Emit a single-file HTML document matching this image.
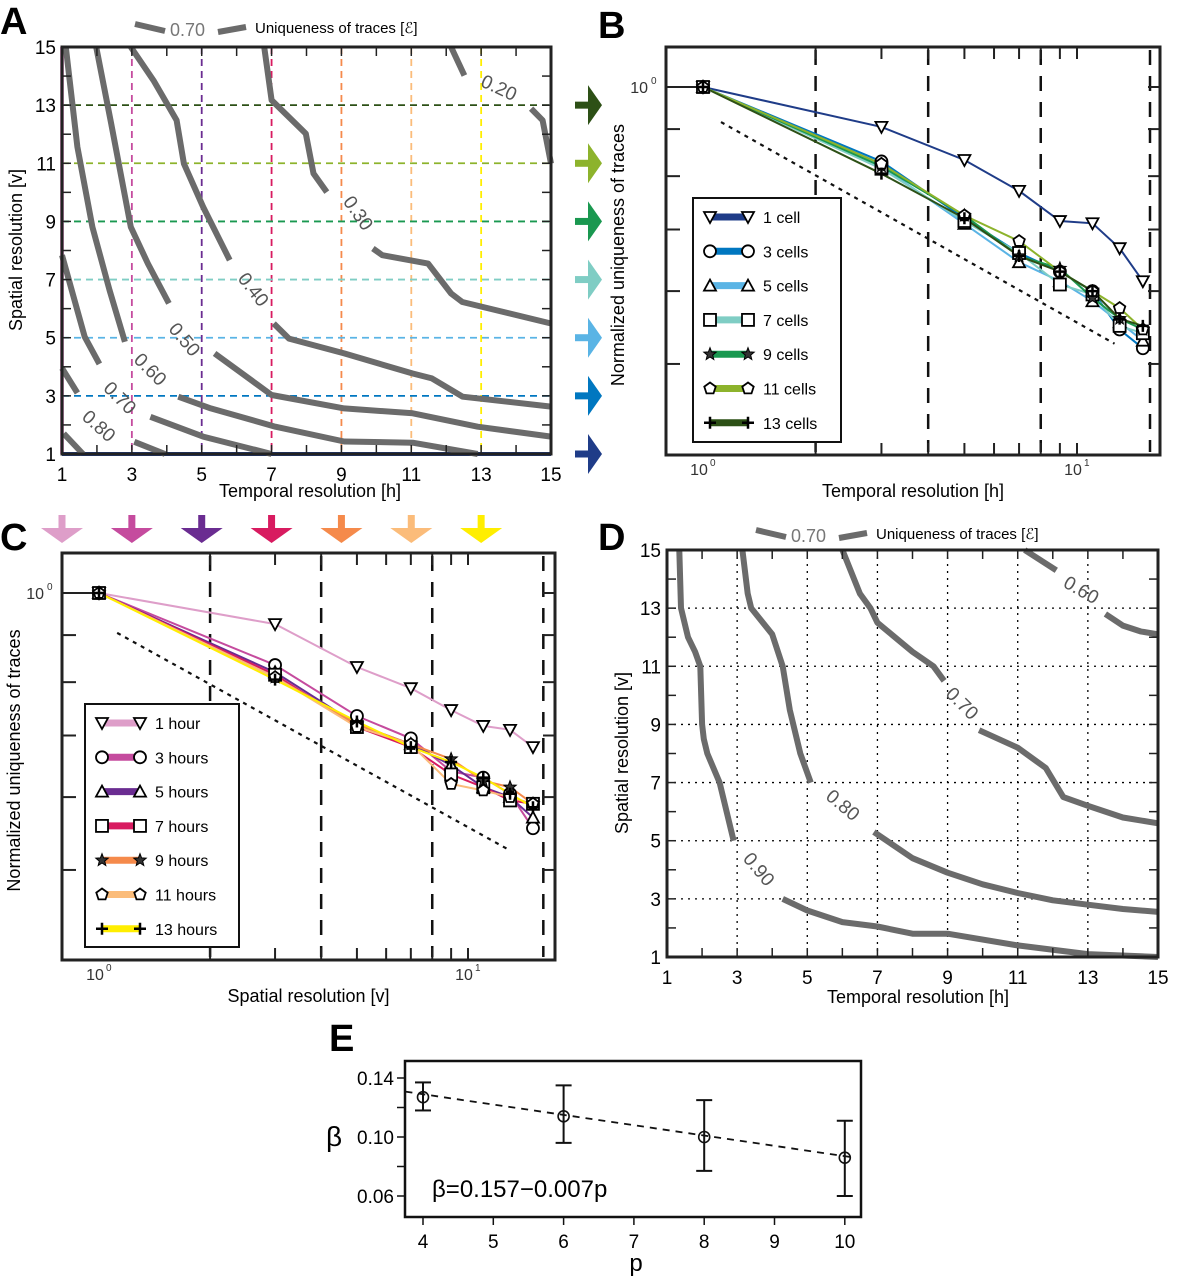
<!DOCTYPE html>
<html><head><meta charset="utf-8"><style>
html,body{margin:0;padding:0;background:#fff}
svg{display:block}
text{font-family:"Liberation Sans",sans-serif}
</style></head><body>
<svg id="fig" width="1200" height="1278" viewBox="0 0 1200 1278" xmlns="http://www.w3.org/2000/svg"></svg>
<script>
// ---------- DATA ----------
const resValues = [1,3,5,7,9,11,13,15];
const cellLabels = ["1 cell","3 cells","5 cells","7 cells","9 cells","11 cells","13 cells"];
const cellColors = ["#1f3c88","#0077c0","#5ab4e5","#7fcdc4","#1a9850","#8db32c","#2d5016"];
const cell1 = [1,.905,.833,.771,.715,.711,.668,.615];
const cell3 = [1,.83,.72,.66,.63,.60,.545,.52];
const cell5 = [1,.82,.71,.645,.615,.585,.555,.53];
const cell7 = [1,.815,.715,.66,.61,.595,.55,.54];
const cell9 = [1,.82,.725,.655,.635,.59,.56,.545];
const cell11 = [1,.825,.725,.68,.63,.60,.575,.545];
const cell13 = [1,.805,.72,.655,.63,.60,.56,.55];
const hourLabels = ["1 hour","3 hours","5 hours","7 hours","9 hours","11 hours","13 hours"];
const hourColors = ["#de9ec9","#c54b9e","#6a2c91","#d81b60","#f58a4b","#fbbc7a","#ffee00"];
const hour1 = [1,.925,.831,.788,.746,.717,.71,.68];
const hour3 = [1,.835,.735,.695,.64,.63,.605,.555];
const hour5 = [1,.82,.72,.685,.65,.615,.6,.57];
const hour7 = [1,.815,.715,.68,.635,.615,.595,.59];
const hour9 = [1,.81,.72,.685,.66,.625,.615,.59];
const hour11 = [1,.81,.715,.685,.62,.61,.6,.59];
const hour13 = [1,.805,.725,.68,.655,.63,.605,.585];
const markerTypes = ["tri-down","circle","tri-up","square","star","pentagon","plus"];
const refLineB = [[1.117,0.916],[12.6,0.526]];
const refLineC = [[1.12,0.905],[13.0,0.525]];
const logMinorTicks = [2,3,4,5,6,7,8,9,10];
const logYTicks = [1,0.9,0.8,0.7,0.6,0.5];
const dashedX = [2,4,8,16];
const contoursA = [
 ["0.90",[[[1.05,1.7],[1.6,1]]]],
 ["0.80",[[[1,3.95],[1.44,3.1]],[[3.07,1.42],[3.95,1]]]],
 ["0.70",[[[1,7.84],[1.65,5.03],[2.07,4.1]],[[3.53,2.28],[5.04,1.6],[7,1]]]],
 ["0.60",[[[1.11,15],[1.44,11.56],[1.87,8.81],[2.36,6.64],[2.8,4.86]],[[4.33,2.97],[5.26,2.57],[7.11,1.94],[9.08,1.43],[11.04,1.39],[12.9,1]]]],
 ["0.50",[[[1.98,15],[2.41,12.36],[2.97,8.81],[3.46,7.55],[4.06,6.18]],[[5.37,4.46],[7.0,3.03],[9.08,2.57],[11.04,2.4],[12.9,1.94],[15,1.6]]]],
 ["0.40",[[[2.97,15],[3.62,13.85],[4.28,12.48],[4.49,10.99],[5.04,9.5],[5.8,7.67]],[[7.06,5.49],[7.5,4.97],[9.08,4.46],[11.04,3.77],[11.59,3.6],[12.47,2.97],[15,2.63]]]],
 ["0.30",[[[6.79,15],[7.0,13.17],[7.98,12.02],[8.2,10.65],[8.58,10.01]],[[9.9,8.07],[10.17,7.84],[11.48,7.55],[12.14,6.52],[12.46,6.23],[15,5.49]]]],
 ["0.20",[[[12.14,15],[12.52,14.02]],[[14.43,12.88],[14.76,12.48],[15,10.99]]]]
];
const labelsA = [["0.80",2.04,1.94,42],["0.70",2.64,2.91,45],["0.60",3.51,3.89,45],["0.50",4.49,4.92,50],["0.40",6.46,6.64,52],["0.30",9.46,9.27,55],["0.20",13.5,13.57,25]];
const contoursD = [
 ["0.90",[[[1.35,15],[1.4,13],[1.6,12],[1.8,11.5],[1.95,11],[2,9],[2.05,8.5],[2.15,8],[2.5,7],[2.9,5]],[[4.3,3],[5,2.6],[6,2.2],[7,2.05],[8,1.8],[9,1.8],[11,1.4],[13,1.1],[15,1.0]]]],
 ["0.80",[[[3.15,15],[3.3,13.5],[3.4,13],[4,12.1],[4.3,11],[4.5,9.5],[4.8,8],[5.1,7]],[[6.9,5.3],[8,4.4],[9,3.9],[10,3.5],[11,3.2],[12,2.95],[13,2.8],[14,2.65],[15,2.55]]]],
 ["0.70",[[[6.0,15],[6.5,13.5],[6.8,13],[7,12.5],[8,11.5],[8.6,11],[8.9,10.5]],[[9.9,8.8],[11,8.2],[11.8,7.5],[12.3,6.5],[13,6.2],[14,5.8],[15,5.6]]]],
 ["0.60",[[[11.2,15],[12.1,14.3]],[[13.5,12.8],[14,12.4],[14.5,12.2],[15,12.1]]]]
];
const labelsD = [["0.90",3.6,4.0,50],["0.80",6.0,6.2,40],["0.70",9.4,9.7,45],["0.60",12.8,13.6,30]];
const pValues = [4,6,8,10];
const betaValues = [0.127,0.114,0.100,0.086];
const betaLow = [0.118,0.096,0.077,0.060];
const betaHigh = [0.137,0.135,0.125,0.111];
const betaTicks = [0.06,0.10,0.14];
const pTicks = [4,5,6,7,8,9,10];

// ---------- HELPERS ----------
const NS="http://www.w3.org/2000/svg";
const svg=document.getElementById('fig');
function el(tag,attrs,parent){const e=document.createElementNS(NS,tag);for(const k in attrs)e.setAttribute(k,attrs[k]);(parent||svg).appendChild(e);return e;}
function grp(name){const g=el('g',{});return g;}
function txt(s,x,y,size,parent,extra){const t=el('text',Object.assign({x:x,y:y,'font-size':size},extra||{}),parent);t.textContent=s;return t;}
function line(x1,y1,x2,y2,stroke,w,parent,dash){const a={x1,y1,x2,y2,stroke,'stroke-width':w};if(dash)a['stroke-dasharray']=dash;return el('line',a,parent);}
function marker(type,x,y,parent){
  const a={fill:'#fff',stroke:'#000','stroke-width':1.8};let e;const r=6;
  if(type==='circle')e=el('circle',Object.assign({cx:x,cy:y,r:r},a),parent);
  else if(type==='square')e=el('rect',Object.assign({x:x-r,y:y-r,width:2*r,height:2*r},a),parent);
  else if(type==='tri-down')e=el('polygon',Object.assign({points:`${x-6},${y-5} ${x+6},${y-5} ${x},${y+6}`},a),parent);
  else if(type==='tri-up')e=el('polygon',Object.assign({points:`${x-6},${y+5} ${x+6},${y+5} ${x},${y-6}`},a),parent);
  else if(type==='pentagon'){let p=[];for(let i=0;i<5;i++){const t=-Math.PI/2+i*2*Math.PI/5;p.push((x+6*Math.cos(t)).toFixed(1)+','+(y+6*Math.sin(t)).toFixed(1));}e=el('polygon',Object.assign({points:p.join(' ')},a),parent);}
  else if(type==='star'){let p=[];for(let i=0;i<10;i++){const t=-Math.PI/2+i*Math.PI/5;const rr=i%2?2.8:6.5;p.push((x+rr*Math.cos(t)).toFixed(1)+','+(y+rr*Math.sin(t)).toFixed(1));}e=el('polygon',Object.assign({points:p.join(' '),fill:'#333',stroke:'#000','stroke-width':1}),parent);}
  else {e=el('path',{d:`M${x-6},${y}H${x+6}M${x},${y-6}V${y+6}`,stroke:'#000','stroke-width':2.5},parent);}
  
  
  return e;
}
function panelLabel(s,x,y){const t=txt(s,x,y,38,svg,{'font-weight':'bold'});}

function contourPanel(name,X0,X1,Y0,Y1,contours,labels,gridDotted){
  const g=grp(name);
  const sx=v=>X0+(v-1)*(X1-X0)/14, sy=v=>Y1-(v-1)*(Y1-Y0)/14;
  return {g,sx,sy,draw(){
    if(gridDotted){for(let v=3;v<=13;v+=2){line(sx(v),Y0,sx(v),Y1,'#000',1.3,g,'2,5');line(X0,sy(v),X1,sy(v),'#000',1.3,g,'2,5');}}
    contours.forEach(c=>{c[1].forEach(seg=>{const p=el('polyline',{points:seg.map(q=>sx(q[0]).toFixed(1)+','+sy(q[1]).toFixed(1)).join(' '),fill:'none',stroke:'#6b6b6b','stroke-width':6,'stroke-linejoin':'round'},g);});});
    labels.forEach(l=>{const t=txt(l[0],sx(l[1]),sy(l[2]),19,g,{fill:'#555','text-anchor':'middle','dominant-baseline':'central',transform:`rotate(${l[3]} ${sx(l[1])} ${sy(l[2])})`});});
    for(let v=1;v<=15;v++){line(sx(v),Y1,sx(v),Y1-9,'#222',1.5,g);line(sx(v),Y0,sx(v),Y0+9,'#222',1.5,g);line(X0,sy(v),X0+9,sy(v),'#222',1.5,g);line(X1,sy(v),X1-9,sy(v),'#222',1.5,g);}
    for(let v=1;v<=15;v+=2){txt(String(v),sx(v),Y1+27,19,g,{'text-anchor':'middle'});txt(String(v),X0-6,sy(v)+7,19,g,{'text-anchor':'end'});}
    el('rect',{x:X0,y:Y0,width:X1-X0,height:Y1-Y0,fill:'none',stroke:'#222','stroke-width':3},g);
  }};
}
function contourLegend(x,y){
  const g=grp('contour-legend');
  line(x,y-4,x+30,y+3,'#6b6b6b',6,g);
  txt('0.70',x+35,y+8,18,g,{fill:'#777'});
  line(x+83,y+4,x+111,y-1,'#6b6b6b',6,g);
  txt('Uniqueness of traces [ℰ]',x+120,y+5,15,g);
}

// Panel A
panelLabel('A',0,34);
contourLegend(135,28);
const A=contourPanel('panel-a-contour',62,551,47,454,contoursA,labelsA,false);
{
  const g=A.g;
  const vCols={3:"#c54b9e",5:"#6a2c91",7:"#d81b60",9:"#f58a4b",11:"#fbbc7a",13:"#ffee00"};
  const hCols={3:"#0077c0",5:"#5ab4e5",7:"#7fcdc4",9:"#1a9850",11:"#8db32c",13:"#2d5016"};
  for(const k in vCols){line(A.sx(+k),47,A.sx(+k),454,vCols[k],1.8,g,'7,5');}
  for(const k in hCols){line(62,A.sy(+k),551,A.sy(+k),hCols[k],1.8,g,'7,5');}
  line(62,47,62,454,'#de9ec9',4,g);
  line(62,454,551,454,'#1f3c88',4,g);
}
A.draw();
txt('Spatial resolution [v]',22,250,18,svg,{'text-anchor':'middle',transform:'rotate(-90 22 250)'});
txt('Temporal resolution [h]',310,497,18,svg,{'text-anchor':'middle'});
const arrowRowCols=[["#1f3c88",1],["#0077c0",3],["#5ab4e5",5],["#7fcdc4",7],["#1a9850",9],["#8db32c",11],["#2d5016",13]];
arrowRowCols.forEach(a=>{const y=A.sy(a[1]);const g=grp('row-arrow-'+a[1]);el('rect',{x:575,y:y-3.5,width:15,height:7,fill:a[0]},g);el('polygon',{points:`588,${y-20} 602,${y} 588,${y+20}`,fill:a[0]},g);});

// Panel D
panelLabel('D',598,550);
contourLegend(756,534);
const D=contourPanel('panel-d-contour',667,1158,550,957,contoursD,labelsD,true);
D.draw();
txt('Spatial resolution [v]',628,753,18,svg,{'text-anchor':'middle',transform:'rotate(-90 628 753)'});
txt('Temporal resolution [h]',918,1003,18,svg,{'text-anchor':'middle'});

// ---------- LOG PANELS ----------
function logPanel(name,X0,X1,Y0,Y1,ox,dx,oy,dy,series,labels,colors,ref,legendBox,xTitle){
  const g=grp(name);
  const sx=v=>ox+dx*Math.log10(v), sy=v=>oy-dy*Math.log10(v);
  dashedX.forEach(v=>{const x=Math.min(sx(v),X1-10);line(x,Y0+3,x,Y1-3,'#111',2.5,g,'15,11');});
  logMinorTicks.forEach(v=>{line(sx(v),Y0,sx(v),Y0+12,'#222',2,g);line(sx(v),Y1,sx(v),Y1-12,'#222',2,g);});
  logYTicks.forEach(v=>{line(X0,sy(v),X0+14,sy(v),'#222',2,g);line(X1,sy(v),X1-12,sy(v),'#222',2,g);});
  line(X0,sy(1),sx(1),sy(1),'#222',2,g);
  const r=el('line',{x1:sx(ref[0][0]),y1:sy(ref[0][1]),x2:sx(ref[1][0]),y2:sy(ref[1][1]),stroke:'#111','stroke-width':2.2,'stroke-dasharray':'4,5'},g);
  
  
  series.forEach((s,i)=>{const p=el('polyline',{points:s.map((v,j)=>sx(resValues[j]).toFixed(1)+','+sy(v).toFixed(1)).join(' '),fill:'none',stroke:colors[i],'stroke-width':2},g);});
  series.forEach((s,i)=>{s.forEach((v,j)=>marker(markerTypes[i],sx(resValues[j]),sy(v),g));});
  el('rect',{x:X0,y:Y0,width:X1-X0,height:Y1-Y0,fill:'none',stroke:'#222','stroke-width':3},g);
  // y label 10^0
  txt('10',X0-18,sy(1)+6,16,g,{'text-anchor':'end',fill:'#333'});
  txt('0',X0-15,sy(1)-3,10,g,{fill:'#333'});
  // x labels
  txt('10',sx(1)-4,Y1+20,16,g,{'text-anchor':'middle',fill:'#333'});txt('0',sx(1)+7,Y1+11,10,g,{fill:'#333'});
  txt('10',sx(10)-4,Y1+20,16,g,{'text-anchor':'middle',fill:'#333'});txt('1',sx(10)+7,Y1+11,10,g,{fill:'#333'});
  txt(xTitle,(X0+X1)/2,Y1+42,18,g,{'text-anchor':'middle'});
  txt('Normalized uniqueness of traces',X0-42,(Y0+Y1)/2+4,18,g,{'text-anchor':'middle',transform:`rotate(-90 ${X0-42} ${(Y0+Y1)/2+4})`});
  const lg=grp(name+'-legend');
  el('rect',{x:legendBox[0],y:legendBox[1],width:legendBox[2],height:legendBox[3],fill:'#fff',stroke:'#111','stroke-width':2},lg);
  labels.forEach((l,i)=>{const y=legendBox[1]+19+i*34.3;const e=grp('legend-entry');lg.appendChild(e);
    line(legendBox[0]+17,y,legendBox[0]+55,y,colors[i],7,e);marker(markerTypes[i],legendBox[0]+17,y,e);marker(markerTypes[i],legendBox[0]+55,y,e);
    txt(l,legendBox[0]+70,y+6,16,e);});
}
panelLabel('B',598,38);
logPanel('panel-b',666,1160,47,455,703,374,87,920,[cell1,cell3,cell5,cell7,cell9,cell11,cell13],cellLabels,cellColors,refLineB,[693,198,148,244],'Temporal resolution [h]');
panelLabel('C',0,550);
logPanel('panel-c',62,555,553,960,99,369,593,920,[hour1,hour3,hour5,hour7,hour9,hour11,hour13],hourLabels,hourColors,refLineC,[85,704,154,243],'Spatial resolution [v]');
hourColors.forEach((c,i)=>{const x=A.sx(1+2*i);const g=grp('column-arrow-'+(1+2*i));el('rect',{x:x-3.5,y:515,width:7,height:15,fill:c},g);el('polygon',{points:`${x-21},${528} ${x+21},${528} ${x},${543}`,fill:c},g);});

// ---------- PANEL E ----------
panelLabel('E',329,1051);
{
  const g=grp('panel-e');
  const X0=405,X1=861,Y0=1061,Y1=1217;
  const sx=p=>423+(p-4)*70.3, sy=b=>1137-(b-0.10)*1475;
  const f=el('line',{x1:sx(3.75),y1:sy(0.157-0.007*3.75),x2:sx(10.12),y2:sy(0.157-0.007*10.12),stroke:'#111','stroke-width':1.8,'stroke-dasharray':'7,6'},g);
  
  pValues.forEach((p,i)=>{const x=sx(p);line(x,sy(betaLow[i]),x,sy(betaHigh[i]),'#111',2,g);line(x-8,sy(betaLow[i]),x+8,sy(betaLow[i]),'#111',2,g);line(x-8,sy(betaHigh[i]),x+8,sy(betaHigh[i]),'#111',2,g);
    const c=el('circle',{cx:x,cy:sy(betaValues[i]),r:5.5,fill:'none',stroke:'#111','stroke-width':1.6},g);});
  el('rect',{x:X0,y:Y0,width:X1-X0,height:Y1-Y0,fill:'none',stroke:'#111','stroke-width':2.5},g);
  pTicks.forEach(p=>{line(sx(p),Y1,sx(p),Y1+8,'#111',1.5,g);txt(String(p),sx(p),Y1+31,19,g,{'text-anchor':'middle'});});
  [0.06,0.08,0.10,0.12,0.14].forEach(b=>line(X0,sy(b),X0-8,sy(b),'#111',1.5,g));
  betaTicks.forEach(b=>txt(b.toFixed(2),X0-11,sy(b)+7,19,g,{'text-anchor':'end'}));
  txt('β',326,1146,28,g,{'font-family':'Liberation Serif'});
  txt('β=0.157−0.007p',432,1197,24,g);
  txt('p',636,1271,24,g,{'text-anchor':'middle'});
}
</script>
</body></html>
